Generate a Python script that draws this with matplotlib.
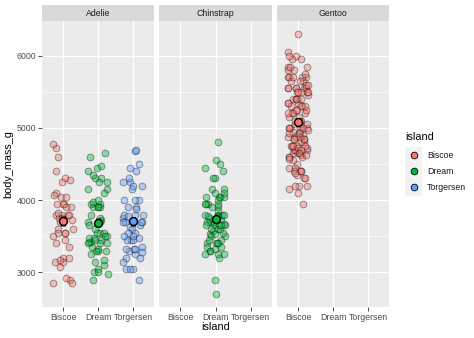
import numpy as np
import matplotlib.pyplot as plt
from matplotlib.lines import Line2D
from matplotlib.patches import Rectangle

plt.rcParams['font.family'] = ['Liberation Sans', 'DejaVu Sans']

# Masse corporelle (g) par espèce et par île
especes = ['Adelie', 'Chinstrap', 'Gentoo']
iles = ['Biscoe', 'Dream', 'Torgersen']
couleurs = {'Biscoe': '#F8766D', 'Dream': '#00BA38', 'Torgersen': '#619CFF'}

adelie_biscoe = [3400, 3600, 3800, 3950, 3800, 3800, 3550, 3200, 3150, 3950,
                 3500, 4300, 3450, 4050, 2900, 3700, 3550, 3800, 2850, 3750,
                 3150, 4400, 3600, 4050, 2850, 3950, 3350, 4100,
                 3725, 4725, 3075, 4250, 2925, 3550, 3750, 3900, 3175, 4775,
                 3825, 4600, 3200, 4275, 3900, 4075]
adelie_dream = [3250, 3900, 3300, 3900, 3325, 4150, 3950, 3550, 3300, 4650,
                3150, 3900, 3100, 4400, 3000, 4600, 3425, 2975, 3450, 4150,
                3350, 3550, 3800, 3500, 3950, 3600, 3550, 4300, 3400, 4450,
                3300, 4300, 3700, 4350, 2900, 4100,
                3500, 4475, 3425, 3900, 3175, 3975, 3400, 4250, 3400, 3475,
                3050, 3725, 3000, 3650, 4250, 3475, 3450, 3750, 3700, 4000]
adelie_torgersen = [3750, 3800, 3250, 3450, 3650, 3625, 4675, 3475, 4250, 3300,
                    3700, 3200, 3800, 4400, 3700, 3450, 4500, 3325, 4200,
                    3050, 4450, 3600, 3900, 3550, 4150, 3700, 4250, 3700, 3900,
                    3550, 4000, 3200, 4700, 3800, 4200,
                    2900, 3775, 3350, 3325, 3150, 3500, 3450, 3875, 3050, 4000,
                    3275, 4300, 3050, 4000, 3325, 3500]
chinstrap_dream = [3500, 3900, 3650, 3525, 3725, 3950, 3250, 3750, 4150, 3700,
                   3800, 3775, 3700, 4050, 3575, 4050, 3300, 3700, 3450, 4400,
                   3600, 3400, 2900, 3800, 3300, 4150, 3400, 3800, 3700, 4550,
                   3200, 4300, 3350, 4100, 3600, 3900, 3850, 4800, 2700, 4500,
                   3950, 3650, 3550, 3500, 3675, 4450, 3400, 4300, 3250, 3675,
                   3325, 3950, 3600, 4050, 3350, 3450, 3250, 4050, 3800, 3525,
                   3950, 3650, 3650, 4000, 3400, 3775, 4100, 3775]
gentoo_biscoe = [4500, 5700, 4450, 5700, 5400, 4550, 4800, 5200, 4400, 5150,
                 4650, 5550, 4650, 5850, 4200, 5850, 4150, 6300, 4800, 5350,
                 5700, 5000, 4400, 5050, 5000, 5100, 4100, 5650, 4600, 5550,
                 5250, 4700, 5050, 6050, 5150, 5400, 4950, 5250, 4350, 5350,
                 3950, 5700, 4300, 4750, 5550, 4900, 4200, 5400, 5100, 5300,
                 4850, 5300, 4400, 5000, 4900, 5050, 4300, 5000, 4450, 5550,
                 4200, 5300, 4400, 5650, 4700, 5700, 4650, 5800, 4700, 5550,
                 4750, 5000, 5100, 5200, 4700, 5800, 4600, 6000, 4750, 5950,
                 4625, 5450, 4725, 5350, 4750, 5600, 4600, 5300, 4875, 5550,
                 4950, 5400, 4750, 5650, 4850, 5200, 4925, 4875, 4625, 5250,
                 4850, 5600, 4975, 5500, 4725, 5500, 4700, 5500, 4575, 5500,
                 5000, 5950, 4650, 5500, 4375, 5850, 4875, 6000, 4925,
                 4850, 5750, 5200, 5400]

donnees = {
    'Adelie': {'Biscoe': adelie_biscoe, 'Dream': adelie_dream,
               'Torgersen': adelie_torgersen},
    'Chinstrap': {'Dream': chinstrap_dream},
    'Gentoo': {'Biscoe': gentoo_biscoe},
}

W, H = 474, 338
fig = plt.figure(figsize=(W / 100, H / 100), dpi=100)
fig.patch.set_facecolor('white')


def boite(x0, y0, x1, y1):
    # coordonnées en pixels (origine en haut à gauche) -> fraction de figure
    return [x0 / W, 1 - y1 / H, (x1 - x0) / W, (y1 - y0) / H]


def decalage(n, graine, largeur=0.3):
    # décalage horizontal déterministe (jitter), sans tirage aléatoire
    i = np.arange(n) + graine
    u = np.modf(np.abs(np.sin(i * 12.9898 + 78.233) * 43758.5453))[0]
    return (u - 0.5) * 2 * largeur


panneaux = [(42, 154), (159, 272), (277, 389)]
haut_bande, haut_panneau, bas_panneau = 5, 21, 307
taille_tick = 6.3
taille_titre = 7.8

for k, (esp, (x0, x1)) in enumerate(zip(especes, panneaux)):
    ax = fig.add_axes(boite(x0, haut_panneau, x1, bas_panneau))
    ax.set_facecolor('#EBEBEB')
    ax.set_xlim(0.4, 3.6)
    ax.set_ylim(2520, 6480)
    for s in ax.spines.values():
        s.set_visible(False)
    for yv in [2500, 3500, 4500, 5500, 6500]:
        ax.axhline(yv, color='white', lw=0.45, zorder=0)
    for yv in [3000, 4000, 5000, 6000]:
        ax.axhline(yv, color='white', lw=0.9, zorder=0)
    for xv in [1, 2, 3]:
        ax.axvline(xv, color='white', lw=0.9, zorder=0)

    for j, ile in enumerate(iles):
        if ile not in donnees[esp]:
            continue
        y = np.array(donnees[esp][ile], dtype=float)
        x = j + 1 + decalage(len(y), graine=17 * k + 5 * j)
        ax.scatter(x, y, s=24, facecolor=couleurs[ile], edgecolor='black',
                   linewidths=0.6, alpha=0.42, zorder=2)
        moy = y.mean()
        se = y.std(ddof=1) / np.sqrt(len(y))
        ax.vlines(j + 1, moy - se, moy + se, color='black', lw=3.6, zorder=3)
        ax.scatter([j + 1], [moy], s=32, facecolor=couleurs[ile],
                   edgecolor='black', linewidths=1.0, zorder=4)

    ax.set_xticks([1, 2, 3])
    ax.set_xticklabels(iles, fontsize=taille_tick, color='#4D4D4D')
    ax.set_yticks([3000, 4000, 5000, 6000])
    ax.tick_params(length=2.7, width=0.6, color='#333333', pad=1.5)
    if k == 0:
        ax.set_yticklabels(['3000', '4000', '5000', '6000'],
                           fontsize=taille_tick, color='#4D4D4D')
    else:
        ax.tick_params(axis='y', left=False, labelleft=False)

    # bandeau de facette
    bande = fig.add_axes(boite(x0, haut_bande, x1, haut_panneau))
    bande.set_facecolor('#D9D9D9')
    bande.set_xticks([])
    bande.set_yticks([])
    for s in bande.spines.values():
        s.set_visible(False)
    bande.text(0.5, 0.45, esp, ha='center', va='center', fontsize=taille_tick,
               color='#1A1A1A', transform=bande.transAxes)

# titres des axes
fig.text(215.5 / W, 1 - 327 / H, 'island', ha='center', va='center',
         fontsize=taille_titre)
fig.text(8 / W, 1 - 164 / H, 'body_mass_g', ha='center', va='center',
         rotation=90, fontsize=taille_titre)

# légende
fig.text(405 / W, 1 - 137 / H, 'island', ha='left', va='center',
         fontsize=taille_titre)
fig.patches.append(Rectangle((405 / W, 1 - 196 / H), 17 / W, 49 / H,
                             transform=fig.transFigure, facecolor='#F2F2F2',
                             edgecolor='none', zorder=0))
for j, ile in enumerate(iles):
    yk = 1 - (155 + 16 * j) / H
    fig.add_artist(Line2D([413.5 / W], [yk], marker='o', linestyle='none',
                          markersize=4.8, markerfacecolor=couleurs[ile],
                          markeredgecolor='black', markeredgewidth=0.6,
                          transform=fig.transFigure))
    fig.text(427 / W, yk, ile, ha='left', va='center', fontsize=taille_tick,
             color='#1A1A1A')

fig.savefig('out.png', dpi=100)
